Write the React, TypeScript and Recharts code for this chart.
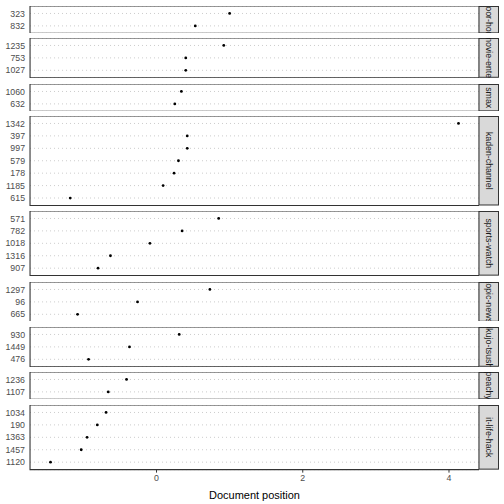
import React from 'react';
import { ScatterChart, Scatter, XAxis, YAxis, CartesianGrid, ReferenceArea } from 'recharts';

// facets, top to bottom
const facetNames = [
  'livedoor-homme',
  'movie-enter',
  'smax',
  'kaden-channel',
  'sports-watch',
  'topic-news',
  'dokujo-tsushin',
  'peachy',
  'it-life-hack',
];

// document ids (top to bottom) and their positions
const hommeDocs = ['323', '832'];
const hommePos = [1.0, 0.53];
const movieDocs = ['1235', '753', '1027'];
const moviePos = [0.92, 0.4, 0.4];
const smaxDocs = ['1060', '632'];
const smaxPos = [0.34, 0.25];
const kadenDocs = ['1342', '397', '997', '579', '178', '1185', '615'];
const kadenPos = [4.13, 0.42, 0.42, 0.3, 0.24, 0.09, -1.18];
const sportsDocs = ['571', '782', '1018', '1316', '907'];
const sportsPos = [0.85, 0.35, -0.09, -0.63, -0.8];
const topicDocs = ['1297', '96', '665'];
const topicPos = [0.73, -0.26, -1.08];
const dokujoDocs = ['930', '1449', '476'];
const dokujoPos = [0.31, -0.37, -0.93];
const peachyDocs = ['1236', '1107'];
const peachyPos = [-0.41, -0.66];
const itDocs = ['1034', '190', '1363', '1457', '1120'];
const itPos = [-0.69, -0.81, -0.95, -1.03, -1.45];

const facetDocs = [hommeDocs, movieDocs, smaxDocs, kadenDocs, sportsDocs, topicDocs, dokujoDocs, peachyDocs, itDocs];
const facetPos = [hommePos, moviePos, smaxPos, kadenPos, sportsPos, topicPos, dokujoPos, peachyPos, itPos];

const xTicks = [0, 2, 4];
const X_MIN = -1.73;
const X_MAX = 4.41;

const LEFT = 30;
const PLOT_RIGHT = 479;
const STRIP_W = 20;
const UNIT = 12.43;
const GAP = 5.5;
const TOP = 5.5;
const AXIS_H = 35;
const FONT = '"Liberation Sans", Arial, sans-serif';

const Dot = (props: any) => {
  const { cx, cy } = props;
  return <circle cx={cx} cy={cy} r={1.4} fill="#000" />;
};

function Facet({ idx, top }: { idx: number; top: number }) {
  const docs = facetDocs[idx];
  const pos = facetPos[idx];
  const n = docs.length;
  const panelH = (n + 0.2) * UNIT;
  const last = idx === facetNames.length - 1;
  const data = pos.map((p, i) => ({ x: p, y: n - i }));
  const yTicks = docs.map((_, i) => i + 1);
  const clipId = 'strip-clip-' + idx;
  return (
    <div style={{ position: 'absolute', left: 0, top }}>
      <ScatterChart
        width={PLOT_RIGHT}
        height={panelH + (last ? AXIS_H : 0)}
        margin={{ top: 0, right: 0, bottom: 0, left: 0 }}
      >
        <CartesianGrid vertical={false} stroke="#cccccc" strokeDasharray="1 3" />
        <XAxis
          type="number"
          dataKey="x"
          domain={[X_MIN, X_MAX]}
          allowDataOverflow
          ticks={xTicks}
          hide={!last}
          height={AXIS_H}
          axisLine={false}
          tickLine={{ stroke: '#333333' }}
          tickSize={3}
          tickMargin={2}
          tick={{ fontSize: 8.8, fill: '#4d4d4d', fontFamily: FONT }}
          label={{
            value: 'Document position',
            position: 'insideBottom',
            offset: 6,
            style: { fontSize: 11, fill: '#000', fontFamily: FONT },
          }}
        />
        <YAxis
          type="number"
          dataKey="y"
          domain={[0.4, n + 0.6]}
          allowDataOverflow
          ticks={yTicks}
          interval={0}
          width={LEFT}
          axisLine={false}
          tickLine={false}
          tickSize={3}
          tickMargin={2}
          tickFormatter={(v: number) => docs[n - v]}
          tick={{ fontSize: 8.8, fill: '#4d4d4d', fontFamily: FONT }}
        />
        <Scatter data={data} shape={<Dot />} isAnimationActive={false} />
        <ReferenceArea
          x1={X_MIN}
          x2={X_MAX}
          y1={0.4}
          y2={n + 0.6}
          fill="none"
          fillOpacity={0}
          stroke="#333333"
          strokeWidth={1.1}
        />
      </ScatterChart>
      <svg
        width={STRIP_W}
        height={panelH}
        style={{ position: 'absolute', left: PLOT_RIGHT, top: 0, overflow: 'hidden' }}
      >
        <defs>
          <clipPath id={clipId}>
            <rect x={0} y={0} width={STRIP_W} height={panelH} />
          </clipPath>
        </defs>
        <rect x={0} y={0.5} width={STRIP_W - 0.5} height={panelH - 1} fill="#d9d9d9" stroke="#333333" strokeWidth={1} />
        <g clipPath={`url(#${clipId})`}>
          <text
            x={STRIP_W / 2}
            y={panelH / 2}
            transform={`rotate(90 ${STRIP_W / 2} ${panelH / 2})`}
            textAnchor="middle"
            dominantBaseline="central"
            fontSize={8.8}
            fill="#1a1a1a"
            fontFamily={FONT}
          >
            {facetNames[idx]}
          </text>
        </g>
      </svg>
    </div>
  );
}

export default function App() {
  const tops: number[] = [];
  let y = TOP;
  facetDocs.forEach((d) => {
    tops.push(y);
    y += (d.length + 0.2) * UNIT + GAP;
  });
  return (
    <div style={{ position: 'absolute', left: 0, top: 0, width: 504, height: 504, background: '#fff' }}>
      {facetNames.map((_, i) => (
        <Facet key={i} idx={i} top={tops[i]} />
      ))}
    </div>
  );
}
